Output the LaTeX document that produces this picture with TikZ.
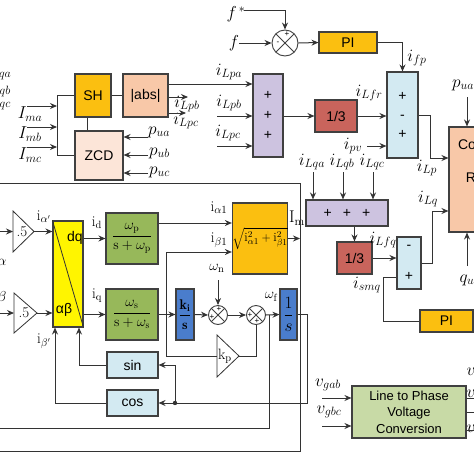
\documentclass[tikz,border=0pt]{standalone}
\usepackage{amsmath}
\usepackage{fontspec}
\setsansfont{Liberation Sans}
\usepackage{xcolor}
\usetikzlibrary{positioning,arrows.meta}

\definecolor{gold}{HTML}{FBBF10}
\definecolor{peach}{HTML}{F8C8A8}
\definecolor{peachl}{HTML}{FCE5D8}
\definecolor{lilac}{HTML}{CDC3E0}
\definecolor{brick}{HTML}{C9645C}
\definecolor{iceblue}{HTML}{D3EAF2}
\definecolor{lemon}{HTML}{FFF500}
\definecolor{leaf}{HTML}{97B85A}
\definecolor{royal}{HTML}{4A7DCC}
\definecolor{sage}{HTML}{C8DAA6}

\begin{document}
\begin{tikzpicture}[
x=1pt, y=-1pt,
box/.style={
    rectangle,
    draw=black!75,
    line width=1.1pt,
    inner sep=0pt,
    align=center,
    font=\sffamily\fontsize{14}{16}\selectfont
},
lbl/.style={inner sep=0pt, font=\fontsize{17}{20}\selectfont},
lbll/.style={inner sep=0pt, font=\fontsize{15}{18}\selectfont},
sgn/.style={inner sep=0pt, font=\sffamily\fontsize{8}{9}\selectfont},
sumc/.style={
    circle,
    draw=black!75,
    line width=0.9pt,
    fill=white,
    minimum size=19pt,
    inner sep=0pt,
    path picture={\draw[black!75,line width=0.8pt]
      (path picture bounding box.north west) -- (path picture bounding box.south east)
      (path picture bounding box.north east) -- (path picture bounding box.south west);}
},
line/.style={
    -{Stealth[length=7pt,width=6pt]},
    line width=1pt,
    draw=black!80
},
plain/.style={line width=1pt, draw=black!80}
]
\useasboundingbox (0,0) rectangle (474,474);

% Frequency loop
\node[lbl] (fstar) at (236,14) {$f^{\,*}$};
\node[lbl] (fin) at (234,43) {$f$};
\node[sumc,minimum size=26pt] (sumf) at (285,43) {};
\node[sgn] (sumfa) at (287,34) {+};
\node[sgn] (sumfb) at (278,43) {-};
\node[box,fill=gold,minimum width=58pt,minimum height=21pt] (pi1) at (348,42.5) {PI};

% Top left: sample and hold
\node[box,fill=gold,minimum width=36pt,minimum height=43pt] (sh) at (93,95.5) {SH};
\node[box,fill=peach,minimum width=45pt,minimum height=43pt] (abs) at (145.5,95.5) {|abs|};
\node[box,fill=peachl,minimum width=48pt,minimum height=49pt] (zcd) at (99,155.5) {ZCD};

\node[lbl,font=\fontsize{12}{14}\selectfont] (qa) at (5,76) {$qa$};
\node[lbl,font=\fontsize{12}{14}\selectfont] (qb) at (5,91) {$qb$};
\node[lbl,font=\fontsize{12}{14}\selectfont] (qc) at (5,106) {$qc$};
\node[lbl] (lma) at (30,114) {$I_{ma}$};
\node[lbl] (lmb) at (30,134) {$I_{mb}$};
\node[lbl] (lmc) at (30,155) {$I_{mc}$};
\node[lbl,anchor=west] (lua) at (148,132) {$p_{ua}$};
\node[lbl,anchor=west] (lub) at (149,153) {$p_{ub}$};
\node[lbl,anchor=west] (luc) at (149,172) {$p_{uc}$};
\node[lbl] (lpbo) at (187,104) {$i_{Lpb}$};
\node[lbl] (lpco) at (186,121) {$i_{Lpc}$};

% Phase sums
\node[box,fill=lilac,minimum width=30pt,minimum height=83pt] (ppp) at (268,115.5) {+\\[4pt]+\\[4pt]+};
\node[box,fill=brick,minimum width=42pt,minimum height=32pt] (r1) at (336,116) {1/3};
\node[box,fill=iceblue,minimum width=31pt,minimum height=86pt] (pmp) at (402.5,115) {+\\[3pt]-\\[3pt]+};
\node[lbl] (lpa) at (229,72) {$i_{Lpa}$};
\node[lbl] (lpb) at (229,103) {$i_{Lpb}$};
\node[lbl] (lpc) at (228,133) {$i_{Lpc}$};
\node[lbl] (lfr) at (369,93) {$i_{Lfr}$};
\node[lbl] (lpv) at (353,146) {$i_{pv}$};
\node[lbl] (lfp) at (417,58) {$i_{fp}$};
\node[lbl] (llp) at (427,168) {$i_{Lp}$};

% Reference block
\node[box,fill=peach,minimum width=42pt,minimum height=105pt] (ctl) at (470,179.5) {};
\node[box,draw=none] (ctla) at (467,145) {Co};
\node[box,draw=none] (ctlb) at (471,178) {R};
\node[lbl] (lua2) at (463,85) {$p_{ua}$};
\node[lbl] (lqu) at (467,280) {$q_{u}$};

% Quadrature sums
\node[box,fill=lilac,minimum width=82pt,minimum height=26pt] (pph) at (347,213) {+\hspace{11pt}+\hspace{11pt}+};
\node[box,fill=brick,minimum width=35pt,minimum height=32pt] (r2) at (354.5,258) {1/3};
\node[box,fill=iceblue,minimum width=24pt,minimum height=52pt] (pm2) at (409,263) {-\\[15pt]+};
\node[box,fill=gold,minimum width=53pt,minimum height=22pt] (pi2) at (446.5,321) {PI};
\node[lbl] (llfq) at (383,240) {$i_{Lfq}$};
\node[lbl] (lsmq) at (367,285) {$i_{smq}$};
\node[lbl] (llq) at (428,199) {$i_{Lq}$};

% Lower left: PLL block
\node[lbll] (lal) at (2,262) {$\alpha$};
\node[lbll] (lbe) at (2,298) {$\beta$};
\draw[plain,fill=white,line width=0.8pt] (13,211) -- (34,231.5) -- (13,252) -- cycle;
\draw[plain,fill=white,line width=0.8pt] (14,293) -- (37,313) -- (14,333) -- cycle;
\node[lbll] (g1) at (22,232) {.5};
\node[lbll] (g2) at (24,313) {.5};
\coordinate (g1tip) at (34,231.5);
\coordinate (g2tip) at (37,313);
\coordinate (g1in) at (0,231.5);
\coordinate (g2in) at (0,313);
\coordinate (g1b) at (13,0);
\coordinate (g2b) at (14,0);

\node[box,fill=lemon,minimum width=30pt,minimum height=106pt] (yel) at (68,274) {};
\draw[plain,line width=0.8pt] (yel.north west) -- (yel.south east);
\node[box,draw=none] (ydq) at (75,238) {dq};
\node[box,draw=none] (yab) at (64,310) {αβ};

\node[box,fill=leaf,minimum width=52pt,minimum height=51pt,font=\fontsize{14}{16}\selectfont] (gr1) at (132,238.5)
{$\dfrac{\omega_{\mathrm{p}}}{\mathrm{s}+\omega_{\mathrm{p}}}$};
\node[box,fill=leaf,minimum width=52pt,minimum height=51pt,font=\fontsize{14}{16}\selectfont] (gr2) at (132,314.5)
{$\dfrac{\omega_{\mathrm{s}}}{\mathrm{s}+\omega_{\mathrm{s}}}$};
\node[box,fill=gold,minimum width=50pt,minimum height=71pt,font=\fontsize{12.5}{14}\selectfont] (sq) at (260,238.5)
{$\sqrt{\mathrm{i}_{\alpha1}^2+\mathrm{i}_{\beta1}^2}$};
\node[box,fill=royal,minimum width=18pt,minimum height=51pt,font=\fontsize{14}{16}\selectfont] (ki) at (185,314.5)
{$\dfrac{\mathbf{k}_{\mathbf{i}}}{\mathbf{s}}$};
\node[sumc] (sum1) at (218,315) {};
\node[sumc] (sum2) at (256,315) {};
\node[sgn] (s1a) at (212,317) {+};
\node[sgn] (s1b) at (219,309) {+};
\node[sgn] (s2a) at (250,315) {+};
\node[sgn] (s2b) at (257,321) {+};
\node[box,fill=royal,minimum width=17pt,minimum height=51pt,font=\fontsize{16}{18}\selectfont] (is) at (288.5,314.5)
{$\dfrac{1}{s}$};
\draw[plain,fill=white,line width=0.8pt] (217,335) -- (239,356) -- (217,377) -- cycle;
\coordinate (kptip) at (239,356);
\coordinate (kpin) at (217,356);
\node[lbll] (lkp) at (225,356) {$\mathrm{k}_{\mathrm{p}}$};

\node[box,fill=iceblue,minimum width=51pt,minimum height=26pt] (sin) at (132.5,365) {sin};
\node[box,fill=iceblue,minimum width=51pt,minimum height=26pt] (cos) at (132.5,403) {cos};

\node[lbll] (lia) at (44,217) {$\mathrm{i}_{\alpha'}$};
\node[lbll] (lib) at (44,341) {$\mathrm{i}_{\beta'}$};
\node[lbll] (lid) at (97,223) {$\mathrm{i}_{\mathrm{d}}$};
\node[lbll] (liq) at (97,296) {$\mathrm{i}_{\mathrm{q}}$};
\node[lbll] (lia1) at (219,208) {$\mathrm{i}_{\alpha1}$};
\node[lbll] (lib1) at (219,240) {$\mathrm{i}_{\beta1}$};
\node[lbll] (lwn) at (217,268) {$\omega_{\mathrm{n}}$};
\node[lbll] (lwf) at (271,297) {$\omega_{\mathrm{f}}$};
\node[lbll,font=\fontsize{17}{20}\selectfont] (lim) at (297,218) {$\mathrm{I}_{\mathrm{m}}$};

% Voltage conversion
\node[box,fill=sage,minimum width=114pt,minimum height=52pt,font=\sffamily\fontsize{13}{16.5}\selectfont] (lpvc) at (409,412)
{Line to Phase\\Voltage\\Conversion};
\node[lbl] (lgab) at (328,385) {$v_{gab}$};
\node[lbl] (lgbc) at (329,412) {$v_{gbc}$};
\node[lbl] (lva) at (471,372) {$v$};
\node[lbl] (lvb) at (471,394) {$v$};
\node[lbl] (lvc) at (471,429) {$v$};

% Connections
\coordinate (fsl) at (244,10);
\draw[line] (fsl) -| (sumf.north);
\draw[line] (fin.east) -- (sumf.west);
\draw[line] (sumf.east) -- (pi1.west);
\draw[line] (pi1.east) -| (pmp.north);

\coordinate (bus) at (57,0);
\coordinate (shz) at (87,0);
\draw[plain] (sh.west) -- (sh.west -| bus) |- (zcd.west);
\draw[plain] (sh.south -| shz) -- (zcd.north -| shz);
\draw[plain] (sh) -- (abs);
\foreach \n/\y in {ma/106,mb/127,mc/147}{
  \coordinate (i\n) at (27,\y);
  \draw[line] (i\n) -- (i\n -| bus);
}
\foreach \n/\y in {ua/137,ub/155,uc/173}{
  \coordinate (p\n) at (148,\y);
  \draw[line] (p\n) -- (p\n -| zcd.east);
}

\coordinate (ya) at (0,84);
\coordinate (ybo) at (188,97);
\coordinate (yco) at (186,113);
\draw[line] (abs.east |- ya) -- (ppp.west |- ya);
\draw[line] (abs.east |- ybo) -- (ybo);
\draw[line] (abs.east |- yco) -- (yco);
\coordinate (ybi) at (217,116);
\coordinate (yci) at (217,146);
\draw[line] (ybi) -- (ybi -| ppp.west);
\draw[line] (yci) -- (yci -| ppp.west);

\draw[line] (ppp.east |- r1) -- (r1.west);
\draw[line] (r1.east) -- (r1.east -| pmp.west);
\coordinate (ipv) at (367,146);
\draw[line] (ipv) -- (ipv -| pmp.west);
\coordinate (lpx) at (430,0);
\coordinate (lpy) at (0,158);
\draw[line] (pmp.east) -| (lpx |- lpy) -- (lpy -| ctl.west);

\coordinate (pua) at (467,97);
\draw[line] (pua) -- (pua |- ctl.north);
\coordinate (qu) at (467,266);
\draw[line] (qu) -- (qu |- ctl.south);

\foreach \x/\n in {313/a,343/b,373/c}{
  \coordinate (q\n) at (\x,172);
  \draw[line] (q\n) -- (q\n |- pph.north);
  \node[lbl] (lq\n) at (\x-1,162) {$i_{Lq\n}$};
}
\draw[line] (pph.south -| r2) -- (r2.north);
\draw[line] (r2.east) -- (r2.east -| pm2.west);
\coordinate (smx) at (383,0);
\coordinate (smy) at (0,277);
\draw[plain] (pi2.west) -| (smx |- smy) -- (smy -| pm2.west);
\coordinate (lqx) at (432,0);
\coordinate (lqy) at (0,211);
\draw[line] (pm2.east) -| (lqx |- lqy) -- (lqy -| ctl.west);

% PLL wiring
\coordinate (ft) at (0,183);
\coordinate (fb) at (0,451);
\coordinate (imx) at (300,0);
\draw[plain] (ft) -| (imx |- fb) -- (fb);
\draw[line] (sq.east) -- (sq.east -| imx);

\draw[line] (g1in) -- (g1in -| g1b);
\draw[line] (g2in) -- (g2in -| g2b);
\draw[line] (g1tip) -- (g1tip -| yel.west);
\draw[line] (g2tip) -- (g2tip -| yel.west);
\draw[line] (yel.east |- gr1) -- (gr1.west);
\draw[line] (yel.east |- gr2) -- (gr2.west);
\coordinate (a1) at (0,223);
\draw[line] (gr1.east |- a1) -- (sq.west |- a1);
\coordinate (j1) at (166,314.5);
\coordinate (b1) at (166,252);
\draw[plain] (gr2.east) -- (j1);
\draw[line] (j1) -- (ki.west);
\draw[line] (j1) -- (b1) -- (b1 -| sq.west);
\draw[plain] (j1) |- (kpin);
\draw[line] (ki.east) -- (sum1.west);
\coordinate (wn) at (218,280);
\draw[line] (wn) -- (sum1.north);
\draw[line] (sum1.east) -- (sum2.west);
\draw[plain] (kptip) -| (sum2.south);
\draw[line] (sum2.east) -- (is.west);
\coordinate (wf) at (269,314.5);
\coordinate (wfo) at (0,428);
\draw[plain] (wf) |- (wfo);
\coordinate (th) at (307,0);
\coordinate (thd) at (175,403);
\draw[plain] (is.east) -| (th |- thd) -- (thd);
\fill[black!80] (thd) circle (2.2pt);
\draw[line] (thd) -- (cos.east);
\draw[line] (thd) |- (sin.east);
\coordinate (sx) at (79,0);
\coordinate (cx) at (55,0);
\draw[line] (sin.west) -| (yel.south -| sx);
\draw[line] (cos.west) -| (yel.south -| cx);

\coordinate (vab) at (322,398);
\coordinate (vbc) at (322,426);
\draw[line] (vab) -- (vab -| lpvc.west);
\draw[line] (vbc) -- (vbc -| lpvc.west);
\foreach \y/\n in {398/a,412/b,430/c}{
  \coordinate (vo\n) at (474,\y);
  \draw[plain] (lpvc.east |- vo\n) -- (vo\n);
}

\end{tikzpicture}
\end{document}
